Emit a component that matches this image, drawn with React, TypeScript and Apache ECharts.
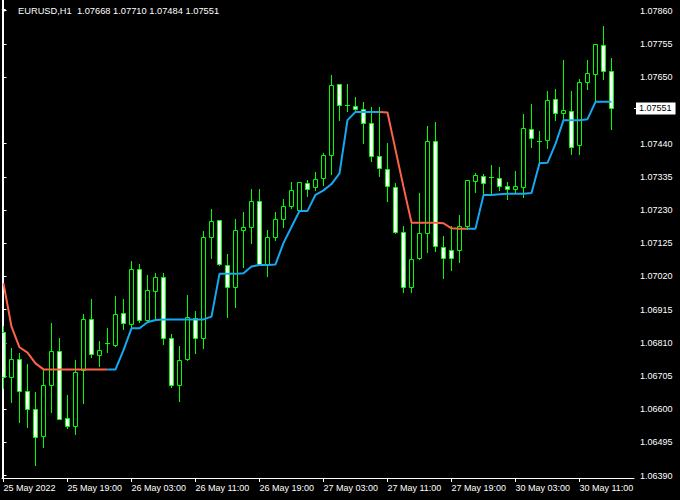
import React, { useEffect, useRef } from "react";
import * as echarts from "echarts";

const symbol = "EURUSD";
const timeframe = "H1";

// bar index of each time label on the x axis, and the label text
const tickBars = [0, 8, 16, 24, 32, 40, 48, 56, 64, 72];
const tickLabels = [
  "25 May 2022",
  "25 May 19:00",
  "26 May 03:00",
  "26 May 11:00",
  "26 May 19:00",
  "27 May 03:00",
  "27 May 11:00",
  "27 May 19:00",
  "30 May 03:00",
  "30 May 11:00",
];

const priceTicks = [
  1.0639, 1.06495, 1.066, 1.06705, 1.0681, 1.06915, 1.0702, 1.07125, 1.0723, 1.07335, 1.0744,
  1.07545, 1.0765, 1.07755, 1.0786,
];
// 1.07545 is covered in the original by the current-price tag
const shownPriceTicks = priceTicks.filter((p) => Math.abs(p - 1.07545) > 1e-7);

const open = [
  1.06843, 1.06701, 1.06758, 1.06657, 1.066, 1.06513, 1.06676, 1.06783, 1.06571, 1.06545,
  1.06721, 1.06884, 1.06771, 1.06809, 1.06801, 1.06903, 1.06869, 1.07042, 1.06881, 1.06973,
  1.07017, 1.06824, 1.06676, 1.06758, 1.06888, 1.06824, 1.07144, 1.07196, 1.07055, 1.06986,
  1.07166, 1.07175, 1.07257, 1.07058, 1.07144, 1.07201, 1.07242, 1.07228, 1.07314, 1.07302,
  1.07329, 1.07403, 1.07627, 1.07559, 1.07557, 1.07548, 1.07504, 1.074, 1.07359, 1.07302,
  1.07159, 1.06986, 1.07076, 1.07156, 1.07448, 1.07112, 1.07103, 1.07101, 1.07177, 1.07319,
  1.07336, 1.07332, 1.0733, 1.07305, 1.07295, 1.07302, 1.07485, 1.07448, 1.07449, 1.0758,
  1.07534, 1.07542, 1.07433, 1.07632, 1.07659, 1.07751, 1.07668,
];
const high = [
  1.06861, 1.06793, 1.06777, 1.0674, 1.06654, 1.06722, 1.06872, 1.06824, 1.06642, 1.06753,
  1.069, 1.06948, 1.06813, 1.06856, 1.06958, 1.06948, 1.07066, 1.07059, 1.07024, 1.07028,
  1.07028, 1.06837, 1.06797, 1.0696, 1.06908, 1.07163, 1.07232, 1.07197, 1.07088, 1.07201,
  1.07223, 1.07295, 1.07296, 1.07164, 1.07223, 1.07262, 1.07318, 1.07318, 1.07322, 1.07347,
  1.0741, 1.07654, 1.07628, 1.07628, 1.07586, 1.0757, 1.07555, 1.07553, 1.07439, 1.07314,
  1.07177, 1.0719, 1.07283, 1.07495, 1.07506, 1.07146, 1.07177, 1.07211, 1.07324, 1.07346,
  1.07343, 1.07372, 1.07364, 1.07318, 1.07353, 1.07532, 1.07562, 1.07477, 1.07603, 1.07612,
  1.07701, 1.07603, 1.07643, 1.07704, 1.07754, 1.07809, 1.0771,
];
const low = [
  1.06666, 1.06621, 1.06558, 1.06542, 1.06422, 1.0648, 1.06589, 1.06568, 1.0654, 1.06521,
  1.06617, 1.06764, 1.06735, 1.06779, 1.06798, 1.06851, 1.06856, 1.06875, 1.06875, 1.06881,
  1.06805, 1.06669, 1.06624, 1.06753, 1.06777, 1.06793, 1.07076, 1.07053, 1.06889, 1.06921,
  1.07048, 1.07124, 1.07056, 1.07019, 1.07134, 1.07174, 1.07234, 1.07228, 1.07274, 1.07292,
  1.07307, 1.07341, 1.07514, 1.07541, 1.07546, 1.07441, 1.07383, 1.07335, 1.07256, 1.07156,
  1.06969, 1.06969, 1.07072, 1.07095, 1.071, 1.07012, 1.07038, 1.07063, 1.07167, 1.07285,
  1.07277, 1.07277, 1.0729, 1.07262, 1.07285, 1.07268, 1.07428, 1.07378, 1.07424, 1.07513,
  1.07514, 1.07405, 1.07405, 1.07612, 1.07575, 1.07644, 1.07484,
];
const close = [
  1.067, 1.06758, 1.06657, 1.066, 1.06511, 1.06676, 1.06783, 1.06568, 1.06545, 1.06717,
  1.06884, 1.06774, 1.06786, 1.06809, 1.069, 1.06872, 1.07042, 1.06881, 1.06976, 1.07017,
  1.06824, 1.06676, 1.06755, 1.06891, 1.06824, 1.07144, 1.07194, 1.07058, 1.06986, 1.07166,
  1.07175, 1.07257, 1.07058, 1.07144, 1.07201, 1.07242, 1.07292, 1.07318, 1.07295, 1.07327,
  1.07403, 1.07625, 1.07559, 1.07559, 1.07548, 1.07504, 1.07398, 1.0736, 1.07304, 1.07158,
  1.06986, 1.07074, 1.07156, 1.07448, 1.07114, 1.07076, 1.07076, 1.07177, 1.07324, 1.0734,
  1.07314, 1.07332, 1.07304, 1.07295, 1.07303, 1.07488, 1.07457, 1.07448, 1.07577, 1.07536,
  1.07543, 1.07428, 1.07634, 1.07662, 1.07754, 1.07667, 1.07551,
];

// trend-following indicator line and its direction per bar (-1 down/red, 1 up/blue)
const signal = [
  1.06998, 1.06861, 1.06796, 1.06779, 1.06745, 1.06726, 1.06726, 1.06726, 1.06726, 1.06726,
  1.06726, 1.06726, 1.06726, 1.06726, 1.06726, 1.06787, 1.06856, 1.06856, 1.06875, 1.06882,
  1.06884, 1.06884, 1.06884, 1.06884, 1.06884, 1.06884, 1.06893, 1.07028, 1.07028, 1.07028,
  1.0703, 1.07051, 1.07056, 1.07056, 1.07058, 1.07126, 1.07176, 1.07227, 1.07227, 1.07278,
  1.07292, 1.07312, 1.07346, 1.07514, 1.0754, 1.0754, 1.0754, 1.0754, 1.07538, 1.0742,
  1.07303, 1.0719, 1.0719, 1.0719, 1.0719, 1.07188, 1.07172, 1.07171, 1.07171, 1.07171,
  1.07277, 1.07277, 1.0728, 1.07281, 1.07281, 1.07281, 1.07284, 1.07378, 1.07379, 1.07439,
  1.07514, 1.07514, 1.07514, 1.07517, 1.07572, 1.07572, 1.07572,
];
const trend = [
  -1, -1, -1, -1, -1, -1, -1, -1, -1, -1,
  -1, -1, -1, -1, 1, 1, 1, 1, 1, 1,
  1, 1, 1, 1, 1, 1, 1, 1, 1, 1,
  1, 1, 1, 1, 1, 1, 1, 1, 1, 1,
  1, 1, 1, 1, 1, 1, 1, 1, -1, -1,
  -1, -1, -1, -1, -1, -1, -1, -1, -1, 1,
  1, 1, 1, 1, 1, 1, 1, 1, 1, 1,
  1, 1, 1, 1, 1, 1, 1,
];

const GREEN = "#00ff00";
const RED = "#ff6347";
const BLUE = "#14aaf2";
const FONT = "'Liberation Sans', Arial, sans-serif";

export default function App() {
  const ref = useRef<HTMLDivElement>(null);

  useEffect(() => {
    if (!ref.current) return;
    const chart = echarts.init(ref.current, null, { renderer: "svg" });
    const n = close.length;
    const last = n - 1;
    const candleData = close.map((c, i) => [i, open[i], c, low[i], high[i]]);
    const redLine = signal.map((v, i) => [
      i,
      trend[i] < 0 || (i + 1 < n && trend[i + 1] < 0) ? v : "-",
    ]);
    const blueLine = signal.map((v, i) => [
      i,
      trend[i] > 0 || (i + 1 < n && trend[i + 1] > 0) ? v : "-",
    ]);

    const yMin = 1.063827;
    const yMax = 1.078938;

    const option: any = {
      animation: false,
      backgroundColor: "#000",
      grid: { left: 2, right: 46, top: 0, bottom: 22 },
      xAxis: {
        type: "value",
        min: -0.1875,
        max: 78.8125,
        axisLine: { show: true, onZero: false, lineStyle: { color: "#fff", width: 1 } },
        axisTick: { show: true, length: 4, customValues: tickBars, lineStyle: { color: "#fff" } },
        axisLabel: {
          customValues: tickBars,
          formatter: (v: number) => {
            const idx = tickBars.indexOf(Math.round(v));
            return idx >= 0 ? tickLabels[idx] : "";
          },
          color: "#fff",
          fontSize: 9,
          fontFamily: FONT,
          align: "left",
          margin: 5,
        },
        splitLine: { show: false },
      },
      yAxis: [
        {
          type: "value",
          position: "right",
          min: yMin,
          max: yMax,
          axisLine: { show: true, lineStyle: { color: "#fff", width: 1 } },
          axisTick: { show: true, length: 3, customValues: shownPriceTicks, lineStyle: { color: "#fff" } },
          axisLabel: {
            customValues: shownPriceTicks,
            formatter: (v: number) => v.toFixed(5),
            color: "#fff",
            fontSize: 9,
            fontFamily: FONT,
            margin: 6,
          },
          splitLine: { show: false },
        },
        {
          type: "value",
          position: "left",
          min: yMin,
          max: yMax,
          axisLine: { show: true, lineStyle: { color: "#fff", width: 1 } },
          axisTick: { show: false },
          axisLabel: { show: false },
          splitLine: { show: false },
        },
        {
          // current-price tag on the price scale
          type: "value",
          position: "right",
          min: yMin,
          max: yMax,
          axisLine: { show: false },
          axisTick: { show: true, length: 3, customValues: [close[last]], lineStyle: { color: "#fff" } },
          axisLabel: {
            customValues: [close[last]],
            formatter: (v: number) => v.toFixed(5),
            color: "#000",
            backgroundColor: "#fff",
            padding: [2, 4, 1, 3],
            fontSize: 9,
            fontFamily: FONT,
            margin: 2,
          },
          splitLine: { show: false },
        },
      ],
      graphic: [
        {
          type: "polygon",
          shape: { points: [[1.5, 9], [6, 9], [3.75, 12.5]] },
          style: { fill: "#fff" },
        },
        {
          type: "text",
          x: 18,
          y: 11,
          style: {
            text: `${symbol},${timeframe}  ${open[last].toFixed(5)} ${high[last].toFixed(5)} ${low[last].toFixed(5)} ${close[last].toFixed(5)}`,
            fill: "#fff",
            fontSize: 9.3,
            fontFamily: FONT,
            verticalAlign: "middle",
          },
        },
      ],
      series: [
        {
          type: "custom",
          xAxisIndex: 0,
          yAxisIndex: 0,
          z: 2,
          clip: true,
          encode: { x: 0, y: [1, 2, 3, 4] },
          data: candleData,
          renderItem: (params: any, api: any) => {
            const k = api.value(0);
            const o = api.value(1);
            const c = api.value(2);
            const l = api.value(3);
            const h = api.value(4);
            const x = Math.round(api.coord([k, o])[0] - 0.5) + 0.5;
            const snap = (p: number) => Math.round(api.coord([k, p])[1] - 0.5) + 0.5;
            const yo = snap(o);
            const yc = snap(c);
            const yh = snap(h);
            const yl = snap(l);
            const top = Math.min(yo, yc);
            const bot = Math.max(yo, yc);
            const children: any[] = [
              {
                type: "line",
                shape: { x1: x, y1: yh - 0.5, x2: x, y2: yl + 0.5 },
                style: { stroke: GREEN, lineWidth: 1 },
              },
            ];
            if (c === o || bot - top < 1) {
              children.push({
                type: "line",
                shape: { x1: x - 2.5, y1: yo, x2: x + 2.5, y2: yo },
                style: { stroke: GREEN, lineWidth: 1 },
              });
            } else {
              children.push({
                type: "rect",
                shape: { x: x - 2, y: top, width: 4, height: bot - top },
                style: { fill: c > o ? "#000" : "#fff", stroke: GREEN, lineWidth: 1 },
              });
            }
            return { type: "group", children };
          },
        },
        {
          type: "line",
          z: 3,
          data: redLine,
          symbol: "none",
          connectNulls: false,
          lineStyle: { color: RED, width: 2 },
          itemStyle: { color: RED },
        },
        {
          type: "line",
          z: 3,
          data: blueLine,
          symbol: "none",
          connectNulls: false,
          lineStyle: { color: BLUE, width: 2 },
          itemStyle: { color: BLUE },
        },
      ],
    };

    chart.setOption(option);
    return () => chart.dispose();
  }, []);

  return (
    <div
      ref={ref}
      style={{ position: "absolute", left: 0, top: 0, width: 680, height: 500, background: "#000" }}
    />
  );
}
